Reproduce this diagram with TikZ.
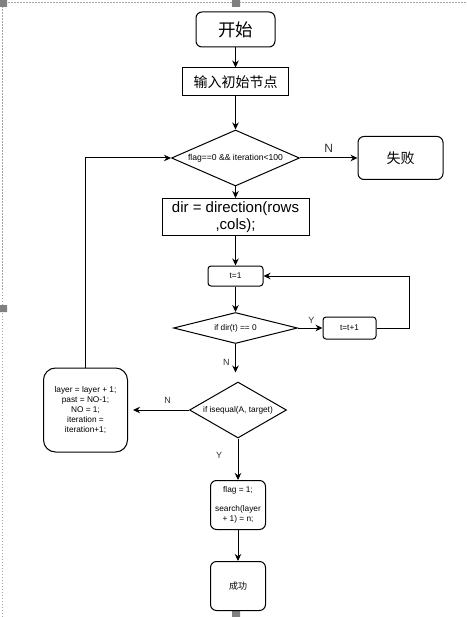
\documentclass[tikz,border=0pt]{standalone}
\usepackage{fontspec}
\setmainfont{Liberation Sans}
\newfontfamily\cjk{Noto Sans CJK SC}
\usepackage{tikz}
\usetikzlibrary{arrows.meta,shapes.geometric,positioning}

\begin{document}
\begin{tikzpicture}[x=1pt, y=1pt, line width=1pt, >={Stealth[length=7pt,width=6.5pt]},
  main/.style = {draw, rounded corners=6pt, inner sep=0pt, align=center, font=\fontsize{8.3}{9.8}\selectfont},
  proc/.style = {draw, inner sep=0pt, align=center},
  cond/.style = {draw, diamond, inner sep=0pt, align=center, font=\fontsize{8.3}{9.8}\selectfont},
  lbl/.style = {font=\fontsize{9}{10}\selectfont, text=black!80}]
\useasboundingbox (0,0) rectangle (466,-617);
% page border and handles
\draw[gray!70, line width=0.7pt, dash pattern=on 1.5pt off 1.5pt] (2,-617) -- (2,-2) -- (466,-2);
\fill[gray] (0,0) rectangle (7,-7) (232,0) rectangle (240,-7) (0,-305) rectangle (7,-312) (232,-610.5) rectangle (240,-617);

\node[main, minimum width=79pt, minimum height=35pt, font=\cjk\fontsize{17.5}{17.5}\selectfont] (1) at (235.5,-29.5) {开始};
\node[proc, minimum width=106pt, minimum height=28pt, font=\cjk\fontsize{14}{14}\selectfont] (2) [below of=1, node distance=52.5pt] {输入初始节点};
\node[cond, aspect=2.29, minimum width=128pt, minimum height=56pt, font=\fontsize{8.6}{9}\selectfont] (3) [below of=2, node distance=76pt] {flag==0 \&\& iteration<100};
\node[main, minimum width=85pt, minimum height=43pt, font=\cjk\fontsize{14}{14}\selectfont] (4) [right of=3, node distance=165pt] {失败};
\node[proc, minimum width=147pt, minimum height=37pt, font=\fontsize{15}{17}\selectfont] (5) [below of=3, node distance=59pt] {dir = direction(rows\\,cols);};
\node[main, rounded corners=3pt, minimum width=55pt, minimum height=20pt] (6) [below of=5, node distance=59pt] {t=1};
\node[cond, aspect=4, minimum width=124pt, minimum height=31pt] (7) [below of=6, node distance=52pt] {if dir(t) == 0};
\node[main, rounded corners=3pt, minimum width=53pt, minimum height=22pt] (8) [right of=7, node distance=114pt] {t=t+1};
\node[cond, aspect=1.73, minimum width=97pt, minimum height=56pt] (9) [below of=7, node distance=82pt, xshift=2.5pt] {if isequal(A, target)};
\node[main, rounded corners=12pt, minimum width=84pt, minimum height=84pt] (10) [left of=9, node distance=152.5pt] {layer = layer + 1;\\past = NO-1;\\NO = 1;\\iteration =\\iteration+1;};
\node[main, minimum width=55pt, minimum height=49pt] (11) [below of=9, node distance=95pt] {flag = 1;\\[9pt]search(layer\\+ 1) = n;};
\node[main, minimum width=55pt, minimum height=49pt, font=\cjk\fontsize{9}{9}\selectfont] (12) [below of=11, node distance=81pt] {成功};

\draw[->] (1) -- (2);
\draw[->] (2) -- (3);
\draw[->] (3) -- node[lbl, above=2pt, font=\fontsize{12}{12}\selectfont] {N} (4);
\draw[->] (3) -- (5);
\draw[->] (5) -- (6);
\draw[->] (6) -- (7);
\draw[->] (7) -- node[lbl, above=1pt, pos=0.55] {Y} (8);
\draw[->] (8.east) -- ++(33pt,0) |- (6);
\draw[->, shorten >=9pt] (7) -- node[lbl, left=2pt] {N} (7.south |- 9.north);
\draw[->, shorten >=5pt] (9) -- node[lbl, above=3pt, pos=0.35] {N} (10);
\draw[->] (10) |- (3);
\draw[->] (9) -- node[lbl, left=12pt, pos=0.4] {Y} (11);
\draw[->] (11) -- (12);

\end{tikzpicture}
\end{document}
